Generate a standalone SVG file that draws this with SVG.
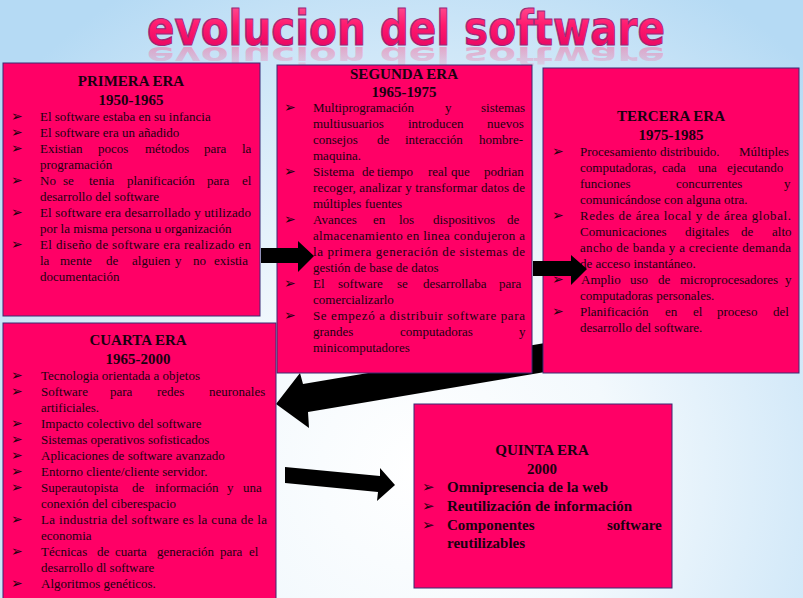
<svg xmlns="http://www.w3.org/2000/svg" width="803" height="598" viewBox="0 0 803 598">
<defs>
<radialGradient id="bg" gradientUnits="userSpaceOnUse" cx="420" cy="470" r="560">
<stop offset="0" stop-color="#ffffff"/>
<stop offset="0.35" stop-color="#f3f9fd"/>
<stop offset="0.75" stop-color="#cfe7f8"/>
<stop offset="1" stop-color="#b5daf4"/>
</radialGradient>
<linearGradient id="tg" x1="0" y1="0" x2="0" y2="1">
<stop offset="0" stop-color="#ff5a9a"/>
<stop offset="0.45" stop-color="#ff1a6e"/>
<stop offset="1" stop-color="#e0005e"/>
</linearGradient>
<linearGradient id="rg" x1="0" y1="0" x2="0" y2="1">
<stop offset="0" stop-color="#f07aa8" stop-opacity="0.15"/>
<stop offset="1" stop-color="#f07aa8" stop-opacity="0.7"/>
</linearGradient>
</defs>
<style>
.box{fill:#ff0066;stroke:#3a2a72;stroke-width:1}
.h{font-family:"Liberation Serif","Times New Roman",serif;font-weight:bold;font-size:15px;fill:#1a0010;text-anchor:middle}
.t{font-family:"Liberation Serif","Times New Roman",serif;font-size:13px;fill:#1a0010}
.q{font-family:"Liberation Serif","Times New Roman",serif;font-size:15px;font-weight:bold;fill:#1a0010}
.b{font-family:"DejaVu Sans",sans-serif;font-size:14px;font-weight:normal}
.qb{font-family:"DejaVu Sans",sans-serif;font-size:15px;font-weight:normal}
.arrow{fill:#000000}
.title{font-family:"DejaVu Sans Condensed","DejaVu Sans",sans-serif;font-weight:bold;font-size:48px;text-anchor:middle}
</style>
<rect x="0" y="0" width="803" height="598" fill="url(#bg)"/>

<g id="title">
<text class="title" x="406" y="47" textLength="518" lengthAdjust="spacingAndGlyphs" transform="translate(0,94) scale(1,-1) translate(0,47) scale(1,0.5) translate(0,-47)" fill="url(#rg)" aria-hidden="true">evolucion del software</text>
<text class="title" x="406" y="45" textLength="518" lengthAdjust="spacingAndGlyphs" fill="url(#tg)" stroke="#9a2a78" stroke-width="1.1">evolucion del software</text>
</g>

<g id="connectors">
<polygon class="arrow" points="276,404 300,373 303,384 545,343 545,372 308,412 309,428"/>
</g>

<g id="primera">
<rect class="box" x="3" y="63" width="257" height="253"/>
<text class="h" x="131" y="86">PRIMERA ERA</text>
<text class="h" x="131" y="105">1950-1965</text>
<text class="t" y="121"><tspan class="b" x="11">➢</tspan><tspan x="40">El software estaba en su infancia</tspan></text>
<text class="t" y="137"><tspan class="b" x="11">➢</tspan><tspan x="40">El software era un añadido</tspan></text>
<text class="t" y="153"><tspan class="b" x="11">➢</tspan><tspan x="40">Existian</tspan> <tspan x="98">pocos</tspan> <tspan x="145">métodos</tspan> <tspan x="204">para</tspan> <tspan x="242">la</tspan></text>
<text class="t" x="40" y="169">programación</text>
<text class="t" y="185"><tspan class="b" x="11">➢</tspan><tspan x="40">No</tspan> <tspan x="63">se</tspan> <tspan x="89">tenia</tspan> <tspan x="127">planificación</tspan> <tspan x="207">para</tspan> <tspan x="242">el</tspan></text>
<text class="t" x="40" y="201">desarrollo del software</text>
<text class="t" y="217"><tspan class="b" x="11">➢</tspan><tspan x="40" textLength="211" lengthAdjust="spacing">El software era desarrollado y utilizado</tspan></text>
<text class="t" x="40" y="233">por la misma persona u organización</text>
<text class="t" y="249"><tspan class="b" x="11">➢</tspan><tspan x="40" textLength="211" lengthAdjust="spacing">El diseño de software era realizado en</tspan></text>
<text class="t" y="265"><tspan x="40">la</tspan> <tspan x="60">mente</tspan> <tspan x="106">de</tspan> <tspan x="132">alguien</tspan> <tspan x="175">y</tspan> <tspan x="193">no</tspan> <tspan x="214">existia</tspan></text>
<text class="t" x="40" y="281">documentación</text>
</g>

<g id="segunda">
<rect class="box" x="277" y="65" width="255" height="308"/>
<text class="h" x="404" y="79">SEGUNDA ERA</text>
<text class="h" x="404" y="97">1965-1975</text>
<text class="t" y="112"><tspan class="b" x="284">➢</tspan><tspan x="313">Multiprogramación</tspan> <tspan x="445">y</tspan> <tspan x="481">sistemas</tspan></text>
<text class="t" y="128"><tspan x="313">multiusuarios</tspan> <tspan x="408">introducen</tspan> <tspan x="487">nuevos</tspan></text>
<text class="t" y="144"><tspan x="313">consejos</tspan> <tspan x="377">de</tspan> <tspan x="405">interacción</tspan> <tspan x="479">hombre-</tspan></text>
<text class="t" x="313" y="160">maquina.</text>
<text class="t" y="176"><tspan class="b" x="284">➢</tspan><tspan x="313">Sistema</tspan> <tspan x="362">de</tspan> <tspan x="377">tiempo</tspan> <tspan x="428">real</tspan> <tspan x="451">que</tspan> <tspan x="484">podrian</tspan></text>
<text class="t" x="313" y="192" textLength="212" lengthAdjust="spacing">recoger, analizar y transformar datos de</text>
<text class="t" x="313" y="208">múltiples fuentes</text>
<text class="t" y="224"><tspan class="b" x="284">➢</tspan><tspan x="313">Avances</tspan> <tspan x="373">en</tspan> <tspan x="399">los</tspan> <tspan x="433">dispositivos</tspan> <tspan x="507">de</tspan></text>
<text class="t" x="313" y="240" textLength="212" lengthAdjust="spacing">almacenamiento en linea condujeron a</text>
<text class="t" x="313" y="256" textLength="212" lengthAdjust="spacing">la primera generación de sistemas de</text>
<text class="t" x="313" y="272">gestión de base de datos</text>
<text class="t" y="288"><tspan class="b" x="284">➢</tspan><tspan x="313">El</tspan> <tspan x="338">software</tspan> <tspan x="397">se</tspan> <tspan x="423">desarrollaba</tspan> <tspan x="499">para</tspan></text>
<text class="t" x="313" y="304">comercializarlo</text>
<text class="t" y="320"><tspan class="b" x="284">➢</tspan><tspan x="313" textLength="212" lengthAdjust="spacing">Se empezó a distribuir software para</tspan></text>
<text class="t" y="336"><tspan x="313">grandes</tspan> <tspan x="400">computadoras</tspan> <tspan x="519">y</tspan></text>
<text class="t" x="313" y="352">minicomputadores</text>
</g>

<g id="tercera">
<rect class="box" x="543" y="68" width="256" height="305"/>
<text class="h" x="671" y="121">TERCERA ERA</text>
<text class="h" x="671" y="140">1975-1985</text>
<text class="t" y="156"><tspan class="b" x="552">➢</tspan><tspan x="580">Procesamiento</tspan> <tspan x="660">distribuido.</tspan> <tspan x="739">Múltiples</tspan></text>
<text class="t" y="172"><tspan x="580">computadoras,</tspan> <tspan x="662">cada</tspan> <tspan x="698">una</tspan> <tspan x="727">ejecutando</tspan></text>
<text class="t" y="188"><tspan x="580">funciones</tspan> <tspan x="676">concurrentes</tspan> <tspan x="784">y</tspan></text>
<text class="t" x="580" y="204">comunicándose con alguna otra.</text>
<text class="t" y="220"><tspan class="b" x="552">➢</tspan><tspan x="580" textLength="211" lengthAdjust="spacing">Redes de área local y de área global.</tspan></text>
<text class="t" y="236"><tspan x="580">Comunicaciones</tspan> <tspan x="685">digitales</tspan> <tspan x="741">de</tspan> <tspan x="772">alto</tspan></text>
<text class="t" x="580" y="252" textLength="211" lengthAdjust="spacing">ancho de banda y a creciente demanda</text>
<text class="t" x="580" y="268">de acceso instantáneo.</text>
<text class="t" y="284"><tspan class="b" x="552">➢</tspan><tspan x="581">Amplio</tspan> <tspan x="630">uso</tspan> <tspan x="658">de</tspan> <tspan x="680">microprocesadores</tspan> <tspan x="785">y</tspan></text>
<text class="t" x="580" y="300">computadoras personales.</text>
<text class="t" y="316"><tspan class="b" x="552">➢</tspan><tspan x="580">Planificación</tspan> <tspan x="665">en</tspan> <tspan x="693">el</tspan> <tspan x="717">proceso</tspan> <tspan x="773">del</tspan></text>
<text class="t" x="580" y="332">desarrollo del software.</text>
</g>

<g id="cuarta">
<rect class="box" x="3" y="323" width="273" height="285"/>
<text class="h" x="138" y="345">CUARTA ERA</text>
<text class="h" x="138" y="364">1965-2000</text>
<text class="t" y="380"><tspan class="b" x="11">➢</tspan><tspan x="41">Tecnologia orientada a objetos</tspan></text>
<text class="t" y="396"><tspan class="b" x="11">➢</tspan><tspan x="41">Software</tspan> <tspan x="110">para</tspan> <tspan x="157">redes</tspan> <tspan x="209">neuronales</tspan></text>
<text class="t" x="41" y="412">artificiales.</text>
<text class="t" y="428"><tspan class="b" x="11">➢</tspan><tspan x="41">Impacto colectivo del software</tspan></text>
<text class="t" y="444"><tspan class="b" x="11">➢</tspan><tspan x="41">Sistemas operativos sofisticados</tspan></text>
<text class="t" y="460"><tspan class="b" x="11">➢</tspan><tspan x="41">Aplicaciones de software avanzado</tspan></text>
<text class="t" y="476"><tspan class="b" x="11">➢</tspan><tspan x="41">Entorno cliente/cliente servidor.</tspan></text>
<text class="t" y="492"><tspan class="b" x="11">➢</tspan><tspan x="41">Superautopista</tspan> <tspan x="132">de</tspan> <tspan x="155">información</tspan> <tspan x="227">y</tspan> <tspan x="243">una</tspan></text>
<text class="t" x="41" y="508">conexión del ciberespacio</text>
<text class="t" y="524"><tspan class="b" x="11">➢</tspan><tspan x="41" textLength="226" lengthAdjust="spacing">La industria del software es la cuna de la</tspan></text>
<text class="t" x="41" y="540">economia</text>
<text class="t" y="556"><tspan class="b" x="11">➢</tspan><tspan x="41">Técnicas</tspan> <tspan x="97">de</tspan> <tspan x="115">cuarta</tspan> <tspan x="157">generación</tspan> <tspan x="220">para</tspan> <tspan x="249">el</tspan></text>
<text class="t" x="41" y="572">desarrollo dl software</text>
<text class="t" y="588"><tspan class="b" x="11">➢</tspan><tspan x="41">Algoritmos genéticos.</tspan></text>
</g>

<g id="quinta">
<rect class="box" x="414" y="404" width="258" height="184"/>
<text class="h" x="542" y="455">QUINTA ERA</text>
<text class="h" x="542" y="474">2000</text>
<text class="q" y="492"><tspan class="qb" x="422">➢</tspan><tspan x="447">Omnipresencia de la web</tspan></text>
<text class="q" y="511"><tspan class="qb" x="422">➢</tspan><tspan x="447">Reutilización de información</tspan></text>
<text class="q" y="530"><tspan class="qb" x="422">➢</tspan><tspan x="447">Componentes</tspan> <tspan x="607">software</tspan></text>
<text class="q" x="447" y="548">reutilizables</text>
</g>

<g id="connectors-top">
<polygon class="arrow" points="261,248 298,248 298,241 314,256 298,272 298,263 261,263"/>
<polygon class="arrow" points="533,261 571,261 571,255 587,269 571,285 571,276 533,276"/>
<polygon class="arrow" points="285,467 380,476 380,468 395,485 377,501 378,492 285,483"/>
</g>
</svg>
